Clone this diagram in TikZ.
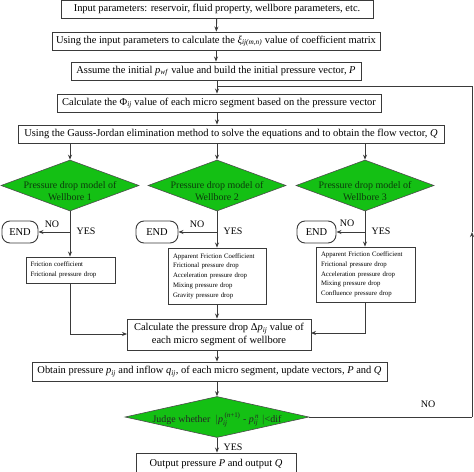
\documentclass[tikz,border=0pt]{standalone}
\usepackage{amsmath}
\usepackage{fontspec}
\setmainfont{Liberation Serif}
\usetikzlibrary{shapes.geometric,arrows.meta}
\definecolor{lineg}{HTML}{3A3A3A}
\definecolor{dgreen}{HTML}{14C014}
\definecolor{dtextc}{HTML}{0C3A0C}
\newcommand{\isub}[1]{\textsubscript{\textit{#1}}}
\tikzset{
  box/.style={draw=lineg, fill=white, line width=0.9pt, inner sep=0pt, font=\fontsize{10.5}{13}\selectfont, align=center},
  wbox/.style={draw=lineg, fill=white, line width=0.9pt, inner sep=0pt, font=\fontsize{6.8}{9.8}\selectfont, align=left, text width=#1},
  dia/.style={diamond, draw=black!70, fill=dgreen, line width=0.6pt, inner sep=0pt},
  dtext/.style={text=dtextc, font=\fontsize{10}{12}\selectfont, align=center, inner sep=0pt},
  endn/.style={draw=lineg, fill=white, line width=0.9pt, rounded corners=8bp, inner sep=0pt, minimum width=38bp, minimum height=22bp, font=\fontsize{10.5}{12}\selectfont},
  lab/.style={inner sep=0pt, font=\fontsize{10}{11}\selectfont},
  conn/.style={draw=lineg, line width=0.9pt},
  arr/.style={conn, -{Stealth[length=5bp,width=4bp]}},
}
\begin{document}
\begin{tikzpicture}[x=1bp,y=-1bp]
\useasboundingbox[fill=white] (0,0) rectangle (474,472);
% main boxes
\node[box, minimum width=312bp, minimum height=18bp] (b1) at (217,9) {Input parameters: reservoir, fluid property, wellbore parameters, etc.};
\node[box, minimum width=328bp, minimum height=18bp] (b2) at (216,41) {Using the input parameters to calculate the \textit{ξ}\isub{ij(m,n)} value of coefficient matrix};
\node[box, minimum width=290bp, minimum height=18bp] (b3) at (216,71) {Assume the initial \textit{p}\isub{wf} value and build the initial pressure vector, \textit{P}};
\node[box, minimum width=324bp, minimum height=18bp] (b4) at (219,103) {Calculate the Φ\isub{ij} value of each micro segment based on the pressure vector};
\node[box, minimum width=426bp, minimum height=18bp] (b5) at (231,134) {Using the Gauss-Jordan elimination method to solve the equations and to obtain the flow vector, \textit{Q}};
% diamonds
\node[dia, minimum width=138bp, minimum height=51bp] (d1) at (70,185.5) {};
\node[dia, minimum width=138bp, minimum height=51bp] (d2) at (217,185.5) {};
\node[dia, minimum width=138bp, minimum height=51bp] (d3) at (365,185.5) {};
\node[dtext] (t1) at (70,191) {Pressure drop model of\\Wellbore 1};
\node[dtext] (t2) at (217,191) {Pressure drop model of\\Wellbore 2};
\node[dtext] (t3) at (365,191) {Pressure drop model of\\Wellbore 3};
% END nodes
\node[endn, minimum width=36bp] (e1) at (20,232) {END};
\node[endn, minimum width=42bp] (e2) at (157,232) {END};
\node[endn, minimum width=39bp] (e3) at (316.5,232) {END};
\coordinate (s1) at (70,232);
\coordinate (s2) at (217,232);
\coordinate (s3) at (365,232);
\node[lab] (no1) at (52,224) {NO};
\node[lab] (no2) at (197,224) {NO};
\node[lab] (no3) at (347,223) {NO};
\node[lab] (yes1) at (86,231) {YES};
\node[lab] (yes2) at (233,231) {YES};
\node[lab] (yes3) at (381,231) {YES};
% wellbore boxes
\node[wbox=80bp, minimum width=89bp, minimum height=26bp] (w1) at (70.5,270) {Friction coefficient\\Frictional pressure drop};
\node[wbox=88bp, minimum width=98bp, minimum height=56bp] (w2) at (217,276) {Apparent Friction Coefficient\\Frictional pressure drop\\Acceleration pressure drop\\Mixing pressure drop\\Gravity pressure drop};
\node[wbox=89bp, minimum width=99bp, minimum height=55bp] (w3) at (365.5,274.5) {Apparent Friction Coefficient\\Frictional pressure drop\\Acceleration pressure drop\\Mixing pressure drop\\Confluence pressure drop};
% calc box
\node[box, minimum width=184bp, minimum height=31bp] (c) at (219,334.5) {Calculate the pressure drop Δ\textit{p}\isub{ij} value of\\each micro segment of wellbore};
\node[box, minimum width=355bp, minimum height=19bp] (o) at (209.5,371.5) {Obtain pressure \textit{p}\isub{ij} and inflow \textit{q}\isub{ij}, of each micro segment, update vectors, \textit{P} and \textit{Q}};
% judge
\node[dia, minimum width=184bp, minimum height=41bp] (j) at (217,417) {};
\node[dtext, text=black!85, font=\fontsize{10}{12}\selectfont] (jt) at (217,419.5) {Judge whether\ \ $|\textit{p}_{\textit{ij}}^{\,\text{(}\textit{n}\text{+1)}}$ - $\textit{p}_{\textit{ij}}^{\,\textit{n}}\;|$<dif};
\node[box, minimum width=160bp, minimum height=22bp] (out) at (216,464) {Output pressure \textit{P} and output \textit{Q}};
\node[lab] (yes4) at (233,447) {YES};
\node[lab] (no4) at (428,404) {NO};
% connectors
\draw[arr] (b1) -- (b2);
\draw[arr] (b2) -- (b3);
\coordinate (fb) at (217,86);
\draw[arr] (b3.south -| fb) -- (b4.north -| fb);
\draw[arr] (b4.south -| fb) -- (b5.north -| fb);
\draw[arr] (b5.south -| d1.north) -- (d1.north);
\draw[arr] (b5.south -| d2.north) -- (d2.north);
\draw[arr] (b5.south -| d3.north) -- (d3.north);
\draw[arr] (d1.south) -- (w1.north -| d1.south);
\draw[arr] (d2.south) -- (w2.north);
\draw[arr] (d3.south) -- (w3.north -| d3.south);
\draw[arr] (s1) -- (e1.east);
\draw[arr] (s2) -- (e2.east);
\draw[arr] (s3) -- (e3.east);
\coordinate (cw) at (127,334);
\coordinate (ce) at (311,333);
\draw[arr] (w1.south -| s1) |- (cw);
\draw[arr] (w3.south -| s3) |- (ce);
\draw[arr] (w2.south) -- (c.north -| w2.south);
\draw[arr] (c.south -| fb) -- (o.north -| fb);
\draw[arr] (o.south -| j.north) -- (j.north);
\draw[arr] (j.south) -- (out.north -| j.south);
\coordinate (rb) at (472,417);
\coordinate (rm) at (472,232);
\coordinate (rt) at (472,86);
\draw[conn] (j.east) -- (rb);
\draw[arr] (rb) -- (rm);
\draw[conn] (rm) -- (rt) -- (fb);
\end{tikzpicture}
\end{document}
